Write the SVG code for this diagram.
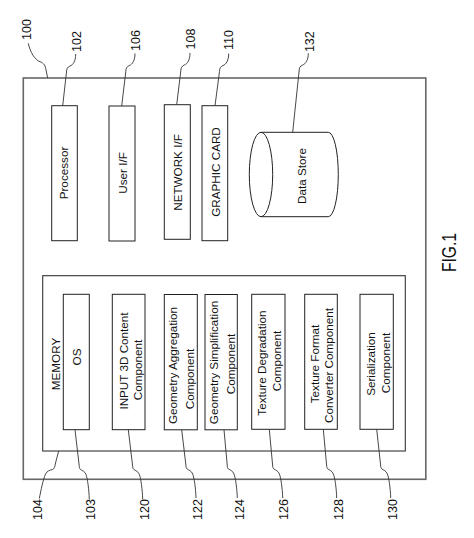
<svg xmlns="http://www.w3.org/2000/svg" width="474" height="538" viewBox="0 0 474 538">
<style>
.bg{fill:#fff}
.outer{fill:none;stroke:#666;stroke-width:1.6}
.mem{fill:none;stroke:#333;stroke-width:1.1}
.box{fill:#fff;stroke:#222;stroke-width:1}
.lead{fill:none;stroke:#333;stroke-width:0.9}
text{font-family:"Liberation Sans",Arial,sans-serif;fill:#111;text-anchor:middle;dominant-baseline:central}
.t{font-size:11.7px}
.n{font-size:12.5px}
.fig{font-size:20px}
</style>
<rect class="bg" x="0" y="0" width="474" height="538"/>
<g id="device">
<rect class="outer" x="23.3" y="78" width="402.5" height="401.3"/>
</g>
<g id="processor">
<rect class="box" x="51.7" y="105.7" width="25.6" height="135"/>
<text class="t" transform="translate(63.5,173) rotate(-90)">Processor</text>
</g>
<g id="user-if">
<rect class="box" x="109" y="106" width="26" height="135"/>
<text class="t" transform="translate(122,173) rotate(-90)">User I/F</text>
</g>
<g id="network-if">
<rect class="box" x="164.3" y="104.7" width="26" height="134.6"/>
<text class="t" transform="translate(177.3,172.5) rotate(-90)">NETWORK I/F</text>
</g>
<g id="graphic-card">
<rect class="box" x="202" y="105.7" width="25.7" height="135"/>
<text class="t" transform="translate(215,172) rotate(-90)">GRAPHIC CARD</text>
</g>
<g id="data-store">
<path class="box" d="M261 132.3 L328.3 132.3 A10 42.2 0 0 1 328.3 216.7 L261 216.7 Z"/>
<ellipse class="box" cx="261" cy="174.5" rx="11.7" ry="42.2"/>
<text class="t" transform="translate(301,176) rotate(-90)">Data Store</text>
</g>
<g id="memory">
<rect class="mem" x="42.7" y="275.7" width="362.6" height="175.3"/>
<text class="t" transform="translate(55.7,364) rotate(-90)">MEMORY</text>
</g>
<g id="os">
<rect class="box" x="63.3" y="294.3" width="26" height="135.4"/>
<text class="t" transform="translate(76.3,357) rotate(-90)">OS</text>
</g>
<g id="input-3d">
<rect class="box" x="112.3" y="294.3" width="32.7" height="135.4"/>
<text class="t" transform="translate(123.3,361) rotate(-90)">INPUT 3D Content</text>
<text class="t" transform="translate(137.5,370) rotate(-90)">Component</text>
</g>
<g id="geometry-aggregation">
<rect class="box" x="164.3" y="294.5" width="33" height="135.3"/>
<text class="t" transform="translate(172,365.5) rotate(-90)">Geometry Aggregation</text>
<text class="t" transform="translate(189.5,379) rotate(-90)">Component</text>
</g>
<g id="geometry-simplification">
<rect class="box" x="205" y="294.5" width="32.3" height="135.3"/>
<text class="t" transform="translate(213,362.5) rotate(-90)">Geometry Simplification</text>
<text class="t" transform="translate(230.5,364) rotate(-90)">Component</text>
</g>
<g id="texture-degradation">
<rect class="box" x="251.7" y="294.3" width="33.3" height="135"/>
<text class="t" transform="translate(261,363) rotate(-90)">Texture Degradation</text>
<text class="t" transform="translate(276.5,361) rotate(-90)">Component</text>
</g>
<g id="texture-format">
<rect class="box" x="304.7" y="294.3" width="32.6" height="135"/>
<text class="t" transform="translate(314.3,364) rotate(-90)">Texture Format</text>
<text class="t" transform="translate(328.5,365.5) rotate(-90)">Converter Component</text>
</g>
<g id="serialization">
<rect class="box" x="360" y="294.3" width="33.3" height="135"/>
<text class="t" transform="translate(370,364) rotate(-90)">Serialization</text>
<text class="t" transform="translate(385,363) rotate(-90)">Component</text>
</g>
<g id="labels">
<text class="n" transform="translate(26.7,29.5) rotate(-90)">100</text>
<text class="n" transform="translate(76.5,41.5) rotate(-90)">102</text>
<text class="n" transform="translate(135.5,40.5) rotate(-90)">106</text>
<text class="n" transform="translate(190.7,39) rotate(-90)">108</text>
<text class="n" transform="translate(229,40) rotate(-90)">110</text>
<text class="n" transform="translate(309.5,41.7) rotate(-90)">132</text>
<text class="n" transform="translate(38,509.5) rotate(-90)">104</text>
<text class="n" transform="translate(91,509.5) rotate(-90)">103</text>
<text class="n" transform="translate(144.5,509.5) rotate(-90)">120</text>
<text class="n" transform="translate(197.5,509.5) rotate(-90)">122</text>
<text class="n" transform="translate(239.5,509.5) rotate(-90)">124</text>
<text class="n" transform="translate(284,509.5) rotate(-90)">126</text>
<text class="n" transform="translate(338.5,509.5) rotate(-90)">128</text>
<text class="n" transform="translate(393,509.5) rotate(-90)">130</text>
<text class="fig" transform="translate(449,252.5) rotate(-90)" textLength="39" lengthAdjust="spacingAndGlyphs">FIG.1</text>
</g>
<g id="connectors">
<path class="lead" d="M28.3 43.3 C30 52 35 60 40 61.7 C44 63 45.5 66 46 70 L47.7 78"/>
<path class="lead" d="M75.7 54 C75.7 61 73 65 70 66 C67.5 67 66.5 69 66.5 72 L62.7 105.7"/>
<path class="lead" d="M135 53.5 C135 60.5 132.3 64.5 129.3 65.5 C126.8 66.5 125.8 68.5 125.8 71.5 L121.7 106"/>
<path class="lead" d="M190 53 C190 60 187.3 64 184.3 65 C181.8 66 180.8 68 180.8 71 L176.7 104.7"/>
<path class="lead" d="M228.7 53.5 C228.7 60.5 226 64.5 223 65.5 C220.5 66.5 219.5 68.5 219.5 71.5 L215 105.7"/>
<path class="lead" d="M308.3 53.3 C308.3 60 305.6 64 302.6 65 C300.1 66 299.1 68 299.1 71 L292.7 132.3"/>
<path class="lead" d="M39.3 498.5 C41 490 43 480 45.5 474 C47 471 50 470 52.5 469.5 C54.5 469 55 466 55.5 463 L58.7 451"/>
<path class="lead" d="M89.3 499.5 C89 489.5 87.5 478.5 86 474.5 C85 471.5 82 470.5 80.5 469.5 C79.5 468.5 79.3 467.5 79.3 466.5 L75 429.7"/>
<path class="lead" d="M142.7 499.5 C142.4 489.5 140.9 478.5 139.4 474.5 C138.4 471.5 135.4 470.5 133.9 469.5 C132.9 468.5 132.7 467.5 132.7 466.5 L128.3 429.7"/>
<path class="lead" d="M196 498 C195.7 488 194.2 478 192.7 474 C191.7 471 188.7 470 187.2 469 C186.2 468 186 467 186 466 L181.7 429.8"/>
<path class="lead" d="M237.3 498 C237 488 235.5 478 234 474 C233 471 230 470 228.5 469 C227.5 468 227.3 467 227.3 466 L224 429.8"/>
<path class="lead" d="M282.7 498 C282.4 488 280.9 478 279.4 474 C278.4 471 275.4 470 273.9 469 C272.9 468 272.7 467 272.7 466 L269.3 429.3"/>
<path class="lead" d="M336.7 498 C336.4 488 334.9 478 333.4 474 C332.4 471 329.4 470 327.9 469 C326.9 468 326.7 467 326.7 466 L323.3 429.3"/>
<path class="lead" d="M390.7 498 C390.4 488 388.9 478 387.4 474 C386.4 471 383.4 470 381.9 469 C380.9 468 380.7 467 380.7 466 L376.7 429.3"/>
</g>
</svg>
